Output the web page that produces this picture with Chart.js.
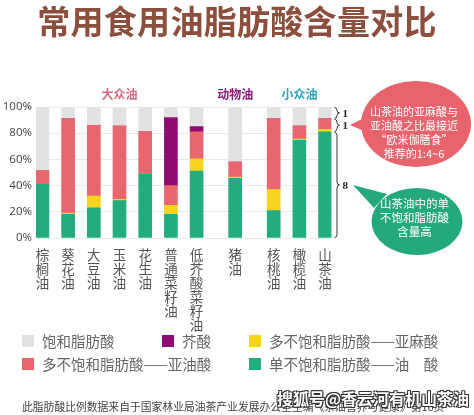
<!DOCTYPE html>
<html>
<head>
<meta charset="utf-8">
<script src="https://cdn.jsdelivr.net/npm/chart.js@4.4.1/dist/chart.umd.min.js"></script>
<style>
  html, body { margin: 0; padding: 0; background: #fff; }
  body { width: 474px; height: 415px; position: relative; overflow: hidden; font-family: "Noto Sans CJK SC", sans-serif; }
  #chart { position: absolute; left: 0; top: 0; }
  .title { position: absolute; left: 0; top: 2px; width: 474px; text-align: center; font-size: 33px; line-height: 36px; font-weight: bold; color: #8d4f3d; letter-spacing: 0.3px; }
  .legend { position: absolute; left: 22px; top: 329px; display: grid; grid-template-columns: 140px 87px auto; grid-auto-rows: 23px; font-size: 14.5px; color: #666; }
  .legend .item { display: flex; align-items: center; white-space: nowrap; }
  .legend .box { width: 12px; height: 12px; margin-right: 8px; flex: none; }
  .legend .wide { grid-column: span 2; }
  .foot { position: absolute; left: 22px; top: 399px; font-size: 10.8px; line-height: 15px; color: #444; white-space: nowrap; }
  .mark { position: absolute; left: 277px; top: 388px; font-size: 16px; line-height: 20px; font-weight: bold; color: #fff; white-space: nowrap;
          text-shadow: -1px -1px 0 #333, 1px -1px 0 #333, -1px 1px 0 #333, 1px 1px 0 #333, 0 0 2px #333; }
</style>
</head>
<body>
<canvas id="chart" width="474" height="415"></canvas>
<div class="title">常用食用油脂肪酸含量对比</div>
<div class="legend" id="legend"></div>
<div class="foot">此脂肪酸比例数据来自于国家林业局油茶产业发展办公室主编《茶油营养与健康》第16页</div>
<div class="mark">搜狐号@香云河有机山茶油</div>
<script>
// oils, in the order they stand on the x axis
const oils = ['棕榈油', '葵花油', '大豆油', '玉米油', '花生油', '普通菜籽油', '低芥酸菜籽油', '猪油', '核桃油', '橄榄油', '山茶油'];
const groupNames = ['大众油', '动物油', '小众油'];
const groupSizes = [7, 1, 3];
const groupColors = ['#d76a80', '#8b1c7c', '#2aa5b8'];

// percentages, bottom of the stack first
const oleic     = [41, 18, 23, 28.5, 49, 18, 51, 45.5, 21, 74.5, 81];
const linolenic = [0, 1, 9, 1, 0, 7, 9.5, 1, 16, 1, 2];
const linoleic  = [10.5, 72, 54, 56, 32, 15, 20.5, 11.5, 54, 10, 8];
const erucic    = [0, 0, 0, 0, 0, 52, 4, 0, 0, 0, 0];
const saturated = [48.5, 9, 14, 14.5, 19, 8, 15, 42, 9, 14.5, 9];

const yTicks = [0, 20, 40, 60, 80, 100];
const braceLabels = ['1', '1', '8'];

const seriesNames = ['单不饱和脂肪酸——油　酸', '多不饱和脂肪酸——亚麻酸', '多不饱和脂肪酸——亚油酸', '芥酸', '饱和脂肪酸'];
const seriesData = [oleic, linolenic, linoleic, erucic, saturated];
const seriesColors = ['#22ac80', '#f7d51f', '#e9666f', '#900c72', '#e2e2e2'];
const legendOrder = [4, 3, 1, 2, 0];

const redNote = ['山茶油的亚麻酸与', '亚油酸之比最接近', '“欧米伽膳食”', '推荐的1:4~6'];
const greenNote = ['山茶油中的单', '不饱和脂肪酸', '含量高'];

// slots on the x axis: a blank between bars, two blanks between groups
const slots = [];
let n0 = 0;
groupSizes.forEach((n, g) => {
  if (g > 0) slots.push(null, null);
  for (let j = 0; j < n; j++) {
    if (j > 0) slots.push(null);
    slots.push(n0++);
  }
});

const FONT = '"Noto Sans CJK SC", sans-serif';

function brace(ctx, x, y1, y2, w) {
  const m = (y1 + y2) / 2, r = Math.min(3, (y2 - y1) / 4), h = x + w / 2;
  ctx.beginPath();
  ctx.moveTo(x, y1);
  ctx.quadraticCurveTo(h, y1, h, y1 + r);
  ctx.lineTo(h, m - r);
  ctx.quadraticCurveTo(h, m, x + w, m);
  ctx.quadraticCurveTo(h, m, h, m + r);
  ctx.lineTo(h, y2 - r);
  ctx.quadraticCurveTo(h, y2, x, y2);
  ctx.stroke();
}

function bubble(ctx, b) {
  ctx.fillStyle = b.color;
  ctx.beginPath();
  ctx.ellipse(b.cx, b.cy, b.rx, b.ry, 0, 0, Math.PI * 2);
  ctx.fill();
  ctx.beginPath();
  ctx.moveTo(b.tail[0][0], b.tail[0][1]);
  ctx.lineTo(b.tail[1][0], b.tail[1][1]);
  ctx.lineTo(b.tail[2][0], b.tail[2][1]);
  ctx.closePath();
  ctx.fill();
  ctx.fillStyle = '#fff';
  ctx.font = b.font;
  ctx.textAlign = 'center';
  ctx.textBaseline = 'middle';
  b.lines.forEach((t, i) => ctx.fillText(t, b.tx, b.ty + i * b.lh));
}

const annotate = {
  id: 'annotate',
  afterDraw(chart) {
    const { ctx, chartArea: a, scales: { x, y } } = chart;
    ctx.save();

    // group headers over the middle bar of each group
    let start = 0;
    ctx.font = 'bold 12px ' + FONT;
    ctx.textAlign = 'center';
    ctx.textBaseline = 'middle';
    groupSizes.forEach((n, g) => {
      const slot = slots.indexOf(start + Math.floor(n / 2));
      ctx.fillStyle = groupColors[g];
      ctx.fillText(groupNames[g], x.getPixelForValue(slot), a.top - 13);
      start += n;
    });

    // braces beside the camellia oil bar
    const c = oils.length - 1;
    const edges = [100, oleic[c] + linolenic[c] + linoleic[c], oleic[c], 0];
    const bx = a.right + 3;
    ctx.strokeStyle = '#333';
    ctx.lineWidth = 1;
    ctx.fillStyle = '#222';
    ctx.font = 'bold 11px "Liberation Serif", serif';
    ctx.textAlign = 'left';
    for (let i = 0; i < 3; i++) {
      const y1 = y.getPixelForValue(edges[i]) + 0.5;
      const y2 = y.getPixelForValue(edges[i + 1]) - 0.5;
      brace(ctx, bx, y1, y2, 5);
      ctx.fillText(braceLabels[i], bx + 8, (y1 + y2) / 2 + 1);
    }

    bubble(ctx, {
      color: '#e8636c', cx: 416, cy: 124, rx: 55, ry: 43,
      tail: [[350, 125], [364, 118], [364, 131]],
      lines: redNote, font: '11px ' + FONT, tx: 414, ty: 112, lh: 13.8
    });
    bubble(ctx, {
      color: '#23a97c', cx: 417, cy: 221.5, rx: 45.5, ry: 33.5,
      tail: [[353, 185], [374, 208], [387, 194]],
      lines: greenNote, font: '11.5px ' + FONT, tx: 414.5, ty: 203.5, lh: 14.2
    });

    ctx.restore();
  }
};

new Chart(document.getElementById('chart'), {
  type: 'bar',
  data: {
    labels: slots.map(i => i === null ? '' : oils[i].split('')),
    datasets: seriesData.map((arr, k) => ({
      label: seriesNames[k],
      data: slots.map(i => i === null ? null : arr[i]),
      backgroundColor: seriesColors[k],
      borderWidth: 0,
      barThickness: 13
    }))
  },
  options: {
    responsive: false,
    animation: false,
    layout: { padding: { top: 107, right: 142.5, left: 0, bottom: 0 } },
    plugins: { legend: { display: false }, tooltip: { enabled: false } },
    scales: {
      x: {
        stacked: true,
        grid: { display: false },
        border: { display: false },
        ticks: {
          autoSkip: false, maxRotation: 0, minRotation: 0, padding: 2,
          color: '#555', font: { family: FONT, size: 13.5, lineHeight: '14px' }
        },
        afterFit: s => { s.height = 177; }
      },
      y: {
        stacked: true,
        min: 0, max: 100,
        afterBuildTicks: s => { s.ticks = yTicks.map(v => ({ value: v })); },
        grid: { color: '#e9e9e9', drawTicks: false },
        border: { display: false },
        ticks: {
          padding: 4, color: '#444',
          font: { family: '"Open Sans", sans-serif', size: 11.5 },
          callback: v => v + '%'
        },
        afterFit: s => { s.width = 36; }
      }
    }
  },
  plugins: [annotate]
});

// legend laid out in the same two rows as the picture
const legend = document.getElementById('legend');
legendOrder.forEach(k => {
  const item = document.createElement('div');
  item.className = 'item' + (k === 2 ? ' wide' : '');
  item.innerHTML = '<span class="box" style="background:' + seriesColors[k] + '"></span>' + seriesNames[k];
  legend.appendChild(item);
});
</script>
</body>
</html>
